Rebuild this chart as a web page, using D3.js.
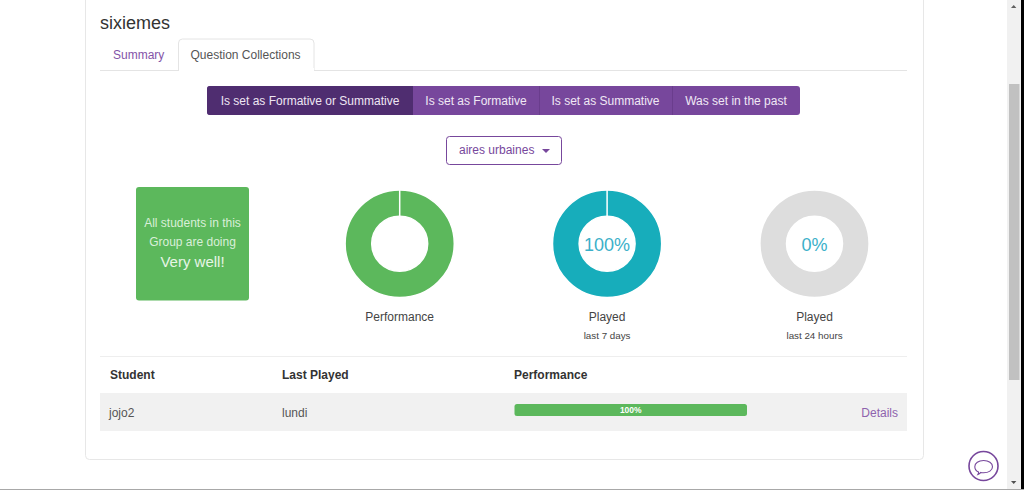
<!DOCTYPE html>
<html lang="en">
<head>
<meta charset="UTF-8">
<title>sixiemes</title>
<script src="https://d3js.org/d3.v7.min.js"></script>
<style>
  html, body { margin: 0; padding: 0; background: #fff; overflow: hidden; }
  svg { display: block; }
  text { font-family: "Liberation Sans", Arial, sans-serif; fill: #333; }
</style>
</head>
<body>
<svg width="1024" height="490"></svg>
<script>
// chart values
const groupTitle = "sixiemes";
const tabLabels = ["Summary", "Question Collections"];
const filterLabels = ["Is set as Formative or Summative", "Is set as Formative", "Is set as Summative", "Was set in the past"];
const collectionLabel = "aires urbaines";
const donutLabels = ["Performance", "Played", "Played"];
const donutSubLabels = ["", "last 7 days", "last 24 hours"];
const donutCenterLabels = ["", "100%", "0%"];
const donutValues = [100, 100, 0];
const tableHeaders = ["Student", "Last Played", "Performance"];
const students = ["jojo2"];
const lastPlayed = ["lundi"];
const performance = [100];

const PURPLE = "#77479c", DARK = "#4f2d70", GREEN = "#5cb85c", TEAL = "#17adbb", GREY = "#dddddd";
const svg = d3.select("svg");

function label(x, y, str, size, color, anchor, weight) {
  return svg.append("text").attr("x", x).attr("y", y).text(str)
    .attr("font-size", size).attr("text-anchor", anchor || "start")
    .attr("font-weight", weight || "normal").style("fill", color || "#333");
}

// panel
svg.append("rect").attr("x", 85.5).attr("y", -20).attr("width", 838).attr("height", 479.5).attr("rx", 4)
  .attr("fill", "#fff").attr("stroke", "#e7e7e7");

label(100, 29, groupTitle, 18, "#333");

// tabs
svg.append("line").attr("x1", 100).attr("x2", 907).attr("y1", 70.5).attr("y2", 70.5).attr("stroke", "#e4e4e4");
svg.append("path").attr("d", "M178.5,71V43a4,4 0 0 1 4,-4H310a4,4 0 0 1 4,4V71")
  .attr("fill", "#fff").attr("stroke", "#e4e4e4");
svg.append("rect").attr("x", 179).attr("y", 68).attr("width", 135).attr("height", 4).attr("fill", "#fff");
label(113, 59, tabLabels[0], 12, "#8354a8");
label(190.5, 59, tabLabels[1], 12, "#555");

// filter buttons
const btnEdges = [207, 413, 539, 672, 800];
svg.append("rect").attr("x", 207).attr("y", 86).attr("width", 593).attr("height", 29).attr("rx", 3).attr("fill", PURPLE);
svg.append("path").attr("d", "M413,86H210a3,3 0 0 0 -3,3V112a3,3 0 0 0 3,3H413Z").attr("fill", DARK);
btnEdges.slice(2, 4).forEach(x => {
  svg.append("line").attr("x1", x + .5).attr("x2", x + .5).attr("y1", 86).attr("y2", 115).attr("stroke", "#6a3d8d");
});
filterLabels.forEach((d, i) => {
  label((btnEdges[i] + btnEdges[i + 1]) / 2, 104.5, d, 12, i === 0 ? "#eee6f3" : "#f0e8f5", "middle");
});

// dropdown
svg.append("rect").attr("x", 446.5).attr("y", 136.5).attr("width", 115).attr("height", 28).attr("rx", 3)
  .attr("fill", "#fff").attr("stroke", PURPLE);
label(459, 154, collectionLabel, 12, PURPLE);
svg.append("path").attr("d", "M542,149h8l-4,4Z").attr("fill", PURPLE);

// status card
svg.append("rect").attr("x", 136).attr("y", 187).attr("width", 113).attr("height", 113.5).attr("rx", 3).attr("fill", GREEN);
label(192.5, 227, "All students in this", 12, "#d9efd9", "middle");
label(192.5, 245.5, "Group are doing", 12, "#d9efd9", "middle");
label(192.5, 267, "Very well!", 15, "#e6f5e6", "middle");

// donuts
const donutX = d3.scalePoint().domain(d3.range(donutValues.length)).range([399.7, 814.5]);
const arc = d3.arc().innerRadius(28).outerRadius(54.6);
const pie = d3.pie().sort(null);
const donutColors = [GREEN, TEAL, TEAL];

donutValues.forEach((v, i) => {
  // the reference rings are slightly squashed vertically
  const g = svg.append("g").attr("transform", `translate(${donutX(i)},243.7)`);
  g.append("g").attr("transform", "scale(1,0.985)")
    .selectAll("path").data(pie([v, 100 - v])).enter().append("path")
    .attr("d", arc)
    .attr("fill", (d, j) => j === 0 ? donutColors[i] : GREY)
    .attr("stroke", "#fff").attr("stroke-width", 1.5);
  g.append("text").attr("y", 7).attr("text-anchor", "middle").attr("font-size", 18)
    .style("fill", "#3bb0c9").text(donutCenterLabels[i]);
  label(donutX(i), 321, donutLabels[i], 12, "#444", "middle");
  label(donutX(i), 339, donutSubLabels[i], 9.8, "#444", "middle");
});

// table
svg.append("line").attr("x1", 100).attr("x2", 907).attr("y1", 356.5).attr("y2", 356.5).attr("stroke", "#eeeeee");
const colX = [110, 282, 514];
tableHeaders.forEach((d, i) => label(colX[i], 379, d, 12, "#333", "start", "bold"));

students.forEach((s, i) => {
  const y = 393 + i * 38;
  svg.append("rect").attr("x", 100).attr("y", y).attr("width", 807).attr("height", 38).attr("fill", "#f1f1f1");
  label(109, y + 23.5, s, 12, "#555");
  label(282, y + 23.5, lastPlayed[i], 12, "#555");
  const barX = d3.scaleLinear().domain([0, 100]).range([514.5, 747]);
  svg.append("rect").attr("x", barX(0)).attr("y", y + 11).attr("width", barX(performance[i]) - barX(0))
    .attr("height", 12).attr("rx", 2.5).attr("fill", GREEN);
  label((barX(0) + barX(performance[i])) / 2, y + 20, performance[i] + "%", 8.5, "#fff", "middle", "bold");
  label(898, y + 23.5, "Details", 12, "#8e63ad", "end");
});

// chat bubble
svg.append("circle").attr("cx", 983.5).attr("cy", 466).attr("r", 14.5).attr("fill", "#fff")
  .attr("stroke", PURPLE).attr("stroke-width", 1.6);
svg.append("path").attr("d", "M978.5,472c-2.5,-1.2 -3.7,-3 -3.7,-5.3c0,-3.7 3.7,-6.2 8.8,-6.2s8.9,2.5 8.9,6.2s-3.9,6 -8.9,6c-1,0 -2,0 -2.8,-.3c-.6,1 -1.5,1.6 -2.8,2c.5,-.7 .7,-1.5 .5,-2.4Z")
  .attr("fill", "none").attr("stroke", PURPLE).attr("stroke-width", 1.1);

// scrollbar and window edge
svg.append("rect").attr("x", 1007).attr("y", 0).attr("width", 14).attr("height", 490).attr("fill", "#f1f1f1");
svg.append("rect").attr("x", 1021).attr("y", 0).attr("width", 3).attr("height", 490).attr("fill", "#000");
svg.append("rect").attr("x", 1009).attr("y", 84).attr("width", 10.5).attr("height", 296).attr("fill", "#c1c1c1");
svg.append("path").attr("d", "M1011,8l2.7,-3l2.7,3Z").attr("fill", "#606060");
svg.append("path").attr("d", "M1011,481l2.7,3l2.7,-3Z").attr("fill", "#505050");
svg.append("rect").attr("x", 0).attr("y", 489).attr("width", 1024).attr("height", 1).attr("fill", "#a8a8a8");
</script>
</body>
</html>
